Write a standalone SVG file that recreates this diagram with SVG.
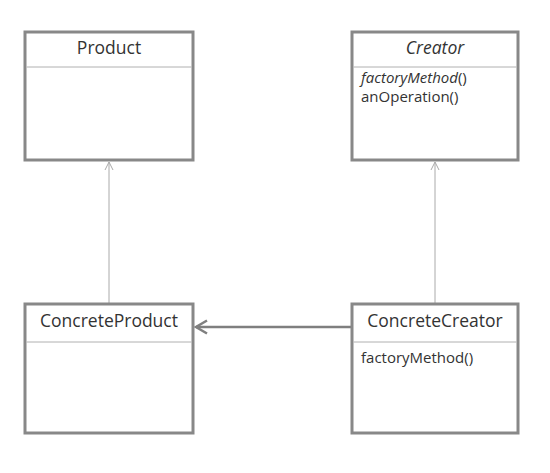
<svg xmlns="http://www.w3.org/2000/svg" width="550" height="473" viewBox="0 0 550 473">
<defs>
<style>
.box{fill:#fff;stroke:#888;stroke-width:3}
.div{stroke:#b0b0b0;stroke-width:1}
.t{font-family:"Open Sans","Noto Sans",sans-serif;font-size:17.5px;fill:#333;text-anchor:middle}
.m{font-family:"Open Sans","Noto Sans",sans-serif;font-size:15px;fill:#333}
.i{font-style:italic}
.gen{stroke:#aaa;stroke-width:1;fill:none}
.assoc{stroke:#7f7f7f;stroke-width:2.5;fill:none}
</style>
</defs>
<rect width="550" height="473" fill="#fff"/>
<g id="connectors">
<line class="gen" x1="109" y1="304" x2="109" y2="162"/>
<polyline class="gen" points="105,170 109,162 113,170"/>
<line class="gen" x1="435" y1="304" x2="435" y2="162"/>
<polyline class="gen" points="431,170 435,162 439,170"/>
<line class="assoc" x1="352" y1="327" x2="196" y2="327"/>
<polyline class="assoc" points="207,320.5 196,327 207,333.5"/>
</g>
<g id="Product">
<rect class="box" x="25" y="32" width="168" height="128"/>
<line class="div" x1="26.5" y1="67" x2="191.5" y2="67"/>
<text class="t" x="109" y="54">Product</text>
</g>
<g id="Creator">
<rect class="box" x="352" y="32" width="166" height="128"/>
<line class="div" x1="353.5" y1="67" x2="516.5" y2="67"/>
<text class="t i" x="435" y="54">Creator</text>
<text class="m" x="361" y="83"><tspan class="i">factoryMethod</tspan>()</text>
<text class="m" x="361" y="101.5">anOperation()</text>
</g>
<g id="ConcreteProduct">
<rect class="box" x="25" y="304" width="168" height="129"/>
<line class="div" x1="26.5" y1="342" x2="191.5" y2="342"/>
<text class="t" x="109" y="327">ConcreteProduct</text>
</g>
<g id="ConcreteCreator">
<rect class="box" x="352" y="304" width="166" height="129"/>
<line class="div" x1="353.5" y1="342" x2="516.5" y2="342"/>
<text class="t" x="435" y="327">ConcreteCreator</text>
<text class="m" x="361" y="363">factoryMethod()</text>
</g>
</svg>
